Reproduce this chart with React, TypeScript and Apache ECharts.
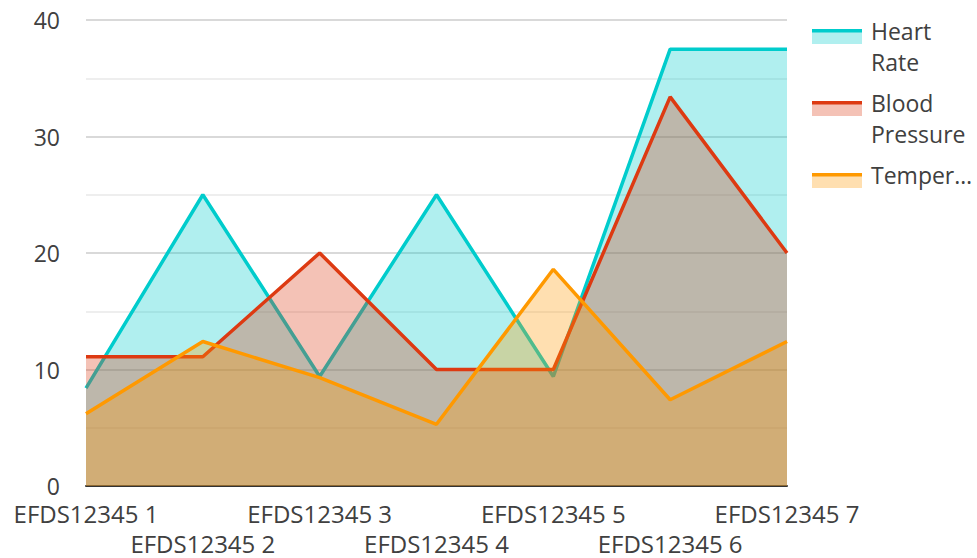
import React, { useEffect, useRef } from "react";
import * as echarts from "echarts";

const categories = ["EFDS12345 1", "EFDS12345 2", "EFDS12345 3", "EFDS12345 4", "EFDS12345 5", "EFDS12345 6", "EFDS12345 7"];
const heartRate = [8.4, 25, 9.4, 25, 9.4, 37.5, 37.5];
const bloodPressure = [11.1, 11.1, 20, 10, 10, 33.4, 20];
const temperature = [6.2, 12.4, 9.3, 5.3, 18.6, 7.4, 12.4];
const seriesNames = ["Heart Rate", "Blood Pressure", "Temperature"];
const legendLabels = ["Heart\nRate", "Blood\nPressure", "Temper…"];
const colors = ["#00CCCC", "#DD3A12", "#FF9900"];
const fills = ["rgba(0,204,204,0.31)", "rgba(221,58,18,0.31)", "rgba(255,153,0,0.31)"];

const FONT = "'Open Sans', 'Noto Sans', sans-serif";

export default function App() {
  const ref = useRef<HTMLDivElement>(null);
  useEffect(() => {
    if (!ref.current) return;
    const chart = echarts.init(ref.current, undefined, { renderer: "svg" });
    const data = [heartRate, bloodPressure, temperature];
    const legendTops = [29, 101, 173];
    const graphic: any[] = [];
    legendTops.forEach((t, i) => {
      graphic.push({ type: "rect", left: 812, top: t, shape: { width: 50, height: 15 }, style: { fill: fills[i] }, silent: true });
      graphic.push({ type: "rect", left: 812, top: t, shape: { width: 50, height: 3.5 }, style: { fill: colors[i] }, silent: true });
      graphic.push({
        type: "text",
        left: 871,
        top: t - 14,
        style: { text: legendLabels[i], fill: "#404040", font: `23px ${FONT}`, lineHeight: 31 },
        silent: true,
      });
    });
    chart.setOption({
      animation: false,
      textStyle: { fontFamily: FONT },
      grid: { left: 86, width: 701, top: 20, height: 466, containLabel: false },
      xAxis: {
        type: "category",
        data: categories,
        boundaryGap: false,
        axisLine: { show: true, lineStyle: { color: "#333", width: 2 } },
        axisTick: { show: false },
        axisLabel: {
          interval: 0,
          color: "#404040",
          fontSize: 24,
          fontFamily: FONT,
          margin: 12,
          lineHeight: 30,
          formatter: (v: string, i: number) => (i % 2 === 1 ? "\n" + v : v),
        },
      },
      yAxis: {
        type: "value",
        min: 0,
        max: 40,
        interval: 10,
        axisLine: { show: false },
        axisTick: { show: false },
        axisLabel: { color: "#404040", fontSize: 23, lineHeight: 20, fontFamily: FONT, margin: 26 },
        splitLine: { lineStyle: { color: "#cccccc", width: 1.5 } },
        minorTick: { show: false, splitNumber: 2 },
        minorSplitLine: { show: true, lineStyle: { color: "#e8e8e8", width: 1.5 } },
      },
      series: data.map((d, i) => ({
        name: seriesNames[i],
        type: "line",
        data: d,
        showSymbol: false,
        symbol: "none",
        lineStyle: { color: colors[i], width: 3.5 },
        itemStyle: { color: colors[i] },
        areaStyle: { color: fills[i], opacity: 1 },
        z: 2 + i,
      })),
      graphic,
    });
    return () => chart.dispose();
  }, []);
  return <div ref={ref} style={{ width: 977, height: 558, position: "absolute", left: 0, top: 0 }} />;
}
